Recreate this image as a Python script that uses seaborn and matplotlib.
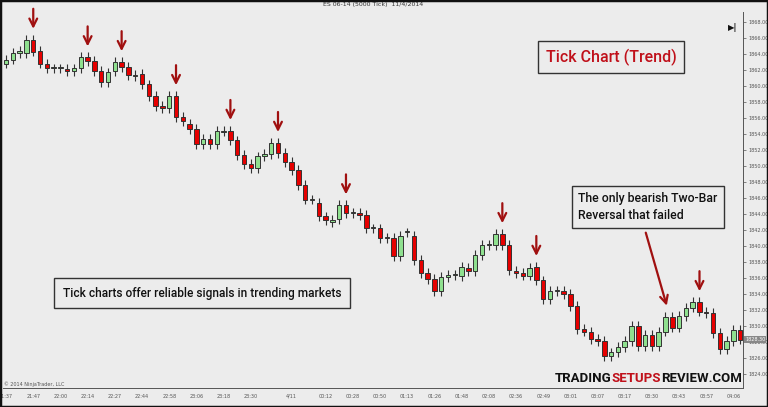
import matplotlib
matplotlib.use("Agg")
import matplotlib.pyplot as plt
import seaborn as sns
import numpy as np

# open/close prices per candle
opens = [1862.8,1863.3,1864.1,1864.1,1865.8,1864.4,1862.8,1862.2,1862.2,1862.1,1861.9,1862.2,1863.6,1863.1,1861.9,1860.5,1861.9,1863.0,1862.4,1861.2,
         1861.5,1860.2,1858.75,1857.5,1857.25,1858.75,1856.1,1855.3,1854.6,1852.7,1853.4,1852.7,1854.3,1854.4,1853.2,1851.4,1850.25,1849.75,1851.25,1851.5,
         1852.9,1851.6,1850.5,1849.5,1847.6,1845.8,1845.4,1843.7,1843.0,1843.4,1845.1,1844.1,1844.1,1843.9,1842.2,1842.2,1841.0,1841.0,1838.75,1841.7,
         1841.3,1838.25,1836.6,1835.85,1834.4,1836.15,1836.4,1836.2,1837.3,1836.85,1838.85,1840.1,1840.1,1841.5,1840.1,1836.9,1836.6,1836.3,1837.4,1835.7,
         1833.4,1834.4,1834.4,1834.0,1832.5,1829.6,1829.3,1828.4,1828.1,1826.2,1826.7,1827.4,1828.1,1830.0,1827.5,1828.9,1827.5,1829.3,1831.1,1829.8,
         1831.25,1832.3,1833.0,1831.8,1831.6,1829.1,1827.1,1828.1,1829.5]
closes = [1863.3,1864.1,1864.4,1865.75,1864.3,1862.8,1862.2,1862.2,1862.2,1861.9,1862.2,1863.6,1863.1,1861.9,1860.5,1861.7,1863.0,1862.4,1861.4,1861.4,
          1860.2,1858.75,1857.5,1857.25,1858.75,1856.1,1855.6,1854.6,1852.7,1853.4,1852.7,1854.4,1854.4,1853.2,1851.4,1850.25,1849.75,1851.2,1851.5,1852.9,
          1851.6,1850.5,1849.5,1847.6,1845.8,1845.8,1843.7,1843.2,1843.3,1845.1,1844.1,1844.1,1843.9,1842.2,1842.2,1841.0,1841.0,1838.75,1841.25,1841.7,
          1838.25,1836.6,1835.85,1834.4,1836.15,1836.4,1836.4,1837.4,1836.85,1838.85,1840.1,1840.1,1841.5,1840.1,1837.0,1836.6,1836.3,1837.3,1835.7,1833.4,
          1834.4,1834.4,1834.0,1832.5,1829.6,1829.3,1828.4,1828.1,1826.2,1826.7,1827.4,1828.1,1830.0,1827.5,1828.9,1827.5,1829.3,1831.1,1829.8,1831.25,
          1832.3,1833.0,1831.8,1831.6,1829.1,1827.1,1828.1,1829.5,1828.3]
wick = 0.6

tick_idx = [0,4,8,12,16,20,24,28,32,36,42,47,51,55,59,63,67,71,75,79,83,87,91,95,99,103,107]
tick_labels = ["21:37","21:47","22:00","22:14","22:27","22:44","22:58","23:06","23:18","23:30","4/11","00:12",
               "00:28","00:50","01:13","01:26","01:48","02:08","02:36","02:49","03:01","03:07","03:17","03:30",
               "03:43","03:57","04:06"]
signal_idx = [4,12,17,25,33,40,50,73,78,102]

sns.set_style("white")
plt.rcParams['font.family'] = ['DejaVu Sans']
narrow = ['Roboto', 'DejaVu Sans']

fig = plt.figure(figsize=(7.68, 4.07), dpi=100)
fig.patch.set_facecolor('#ececec')
ax = fig.add_axes([3/768, 19/407, 740/768, 376/407])
ax.set_facecolor('#ececec')

n = len(opens)
x = np.arange(n)
o = np.array(opens); c = np.array(closes)
hi = np.maximum(o, c) + wick
lo = np.minimum(o, c) - wick
up = c >= o
ax.vlines(x, lo, hi, color='#333333', lw=0.8, zorder=1)
body = np.maximum(np.abs(c - o), 0.12)
ax.bar(x[up], body[up], bottom=np.minimum(o, c)[up], width=0.65, color='#8fe08f', edgecolor='#333333', lw=0.7, zorder=2)
ax.bar(x[~up], body[~up], bottom=np.minimum(o, c)[~up], width=0.65, color='#e60000', edgecolor='#333333', lw=0.7, zorder=2)

for i in signal_idx:
    ax.annotate('', xy=(i, hi[i] + 0.4), xytext=(i, hi[i] + 3.6),
                arrowprops=dict(arrowstyle='->', color='#a01010', lw=1.6, mutation_scale=14))

ax.set_xlim(-0.45, 108.4)
ax.set_ylim(1822.25, 1869.25)
ax.yaxis.tick_right()
yt = np.arange(1824, 1869, 2)
ax.set_yticks(yt)
ax.set_yticklabels([f"{v:.2f}" for v in yt], fontsize=3.5, color='#555555')
ax.set_xticks(tick_idx)
ax.set_xticklabels(tick_labels, fontsize=3.5, color='#555555')
ax.tick_params(length=2, width=0.5, color='#555555', pad=2)
for s in ['top', 'left']:
    ax.spines[s].set_visible(False)
for s in ['right', 'bottom']:
    ax.spines[s].set_color('#555555'); ax.spines[s].set_linewidth(0.7)

ax.text(0.5, 1.012, "ES 06-14 (5000 Tick)  11/4/2014", transform=ax.transAxes, ha='center', va='bottom', fontsize=4.5, color='#333333')
ax.text(0.992, 0.97, "▶|", transform=ax.transAxes, ha='right', va='top', fontsize=6, color='#111111', fontweight='bold')

fig.text(611/768, 1-57/407, "Tick Chart (Trend)", ha='center', va='center', fontsize=11.5, color='#c0101a', family=narrow,
         fontweight='medium', bbox=dict(boxstyle='square,pad=0.45', fc='#ececec', ec='#333333', lw=1))
fig.text(202/768, 1-293/407, "Tick charts offer reliable signals in trending markets", ha='center', va='center', fontsize=8.6,
         color='#111111', family=narrow, fontweight='medium', bbox=dict(boxstyle='square,pad=0.7', fc='#ececec', ec='#333333', lw=1))
fig.text(648/768, 1-207/407, "The only bearish Two-Bar\nReversal that failed", ha='center', va='center', multialignment='left',
         fontsize=8.8, color='#111111', family=narrow, fontweight='medium', linespacing=1.35,
         bbox=dict(boxstyle='square,pad=0.5', fc='#ececec', ec='#333333', lw=1))
ax.annotate('', xy=(97.3, hi[97] + 0.5), xytext=(645/768, 1-230/407), textcoords='figure fraction',
            arrowprops=dict(arrowstyle='->', color='#a01010', lw=1.6, mutation_scale=14))

# watermark, right-aligned at x=742
r = fig.canvas.get_renderer()
parts = [("REVIEW.COM", '#111111'), ("SETUPS", '#c0101a'), ("TRADING", '#111111')]
xr = 742
for s, col in parts:
    t = fig.text(xr/768, 1-379/407, s, ha='right', va='center', fontsize=9.5, color=col, family=narrow, fontweight='bold')
    w = t.get_window_extent(renderer=r).width
    xr -= w
fig.text(4/768, 1-384/407, "© 2014 NinjaTrader, LLC", ha='left', va='center', fontsize=3.5, color='#555555')

ax.text(1.003, (c[-1]-1822.25)/47, f"{c[-1]:.2f}", transform=ax.transAxes, ha='left', va='center', fontsize=3.5, color='white',
        bbox=dict(boxstyle='square,pad=0.2', fc='#888888', ec='none'))

fig.add_artist(plt.Rectangle((0, 0), 1, 1, transform=fig.transFigure, fill=False, ec='#111111', lw=2.5))
fig.savefig("out.png", dpi=100, facecolor=fig.get_facecolor())
